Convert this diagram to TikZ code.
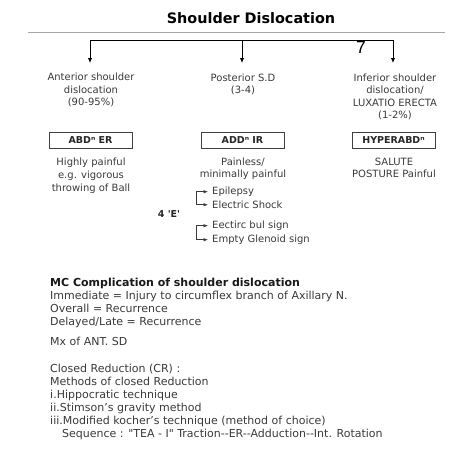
\documentclass[tikz,border=0pt]{standalone}
\usepackage{fontspec}
\setmainfont{DejaVu Sans}
\newfontfamily\sevenfont{Liberation Sans}
\usetikzlibrary{arrows.meta}
\definecolor{txt}{HTML}{3A3A3A}
\begin{document}
\begin{tikzpicture}[x=1pt,y=-1pt,
  lbl/.style={font=\fontsize{10}{12.3}\selectfont, text=txt, align=center, inner sep=0pt, anchor=base},
  lbltwo/.style={lbl, font=\fontsize{10}{11.5}\selectfont},
  boxnode/.style={draw=black!75, line width=0.9pt, minimum width=83pt, minimum height=16pt, inner sep=0pt,
    font=\fontsize{9.5}{10}\bfseries\selectfont, text=black!85},
  conn/.style={draw=black, line width=0.9pt, -{Latex[length=5pt,width=4.5pt]}},
  brk/.style={draw=txt, line width=0.6pt, {Latex[length=4.5pt,width=3.5pt]}-{Latex[length=4.5pt,width=3.5pt]}},
  item/.style={font=\fontsize{10}{11}\selectfont, text=txt, inner xsep=4pt, inner ysep=0pt, anchor=base west},
  body/.style={font=\fontsize{11}{13}\selectfont, text=txt, align=left, inner sep=0pt, anchor=base west}]
\useasboundingbox[fill=white] (0,0) rectangle (474,474);

\node[font=\fontsize{14.4}{16}\bfseries\selectfont, anchor=base] (title) at (251,23) {Shoulder Dislocation};
\draw[black!35, line width=0.9pt] (28,32) -- (445,32);

\coordinate (root) at (242,40);
\coordinate (t1) at (90,63);
\coordinate (t2) at (242,63);
\coordinate (t3) at (393,63);
\draw[conn] (root) -| (t1);
\draw[conn] (root) -- (t2);
\draw[conn] (root) -| (t3);
\node[font=\sevenfont\fontsize{17.5}{17.5}\selectfont, anchor=base, inner sep=0pt] (seven) at (361,53.5) {7};

\node[lbl] (ant) at (91,105.5) {Anterior shoulder\\dislocation\\(90-95\%)};
\node[lbl] (post) at (243,93.5) {Posterior S.D\\(3-4)};
\node[lbl] (inf) at (395,118.3) {Inferior shoulder\\dislocation/\\LUXATIO ERECTA\\(1-2\%)};

\node[boxnode] (b1) at (90.5,140) {ABDⁿ ER};
\node[boxnode] (b2) at (242.5,140) {ADDⁿ IR};
\node[boxnode] (b3) at (393.5,140) {HYPERABDⁿ};

\node[lbl, font=\fontsize{10}{13}\selectfont] (d1) at (91,191.5) {Highly painful\\e.g. vigorous\\throwing of Ball};
\node[lbltwo] (d2) at (243,177) {Painless/\\minimally painful};
\node[lbltwo] (d3) at (394,177) {SALUTE\\POSTURE Painful};

\node[item] (e1) at (208,194.5) {Epilepsy};
\node[item] (e2) at (208,208.5) {Electric Shock};
\node[item] (e3) at (208,228.5) {Eectirc bul sign};
\node[item] (e4) at (208,242.5) {Empty Glenoid sign};
\draw[brk] (e1.west) -- ++(-12,0) |- (e2.west);
\draw[brk] (e3.west) -- ++(-12,0) |- (e4.west);
\node[font=\fontsize{9.5}{10}\bfseries\selectfont, text=black!85, anchor=base, inner sep=0pt] (four) at (169,217.5) {4 \textquotesingle E\textquotesingle};

\node[body] (mc) at (50,325.5) {{\color{black!90}\bfseries MC Complication of shoulder dislocation}\\Immediate = Injury to circumflex branch of Axillary N.\\Overall = Recurrence\\Delayed/Late = Recurrence};
\node[body] (mx) at (50,345.5) {Mx of ANT. SD};
\node[body] (cr) at (50,437.5) {Closed Reduction (CR) :\\Methods of closed Reduction\\i.Hippocratic technique\\ii.Stimson's gravity method\\iii.Modified kocher's technique (method of choice)\\\hspace*{12pt}Sequence : \textquotedbl TEA - I\textquotedbl{} Traction-{}-ER-{}-Adduction-{}-Int. Rotation};
\end{tikzpicture}
\end{document}
